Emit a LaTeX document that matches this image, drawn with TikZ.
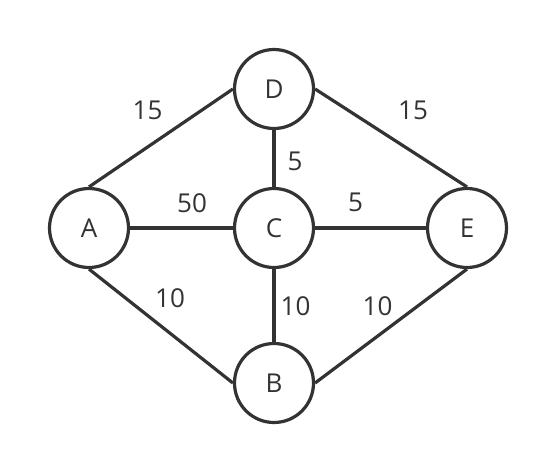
\documentclass[tikz,border=0pt]{standalone}
\usepackage{fontspec}
\setmainfont{Open Sans}
\definecolor{ink}{HTML}{333333}
\begin{document}
\begin{tikzpicture}[x=0.75pt,y=-0.75pt,
  vert/.style={circle,draw=ink,line width=2.4pt,minimum size=59.25pt,inner sep=0pt,fill=white,text=ink,font=\fontsize{19.5}{23}\selectfont},
  edge/.style={draw=ink,line width=2.4pt},
  wlabel/.style={text=ink,inner sep=0pt,font=\fontsize{19.5}{23}\selectfont}]
\useasboundingbox (0,0) rectangle (558,472);
\node[vert] (D) at (274,89) {D};
\node[vert] (A) at (89,228) {A};
\node[vert] (C) at (274,228) {C};
\node[vert] (E) at (467,228) {E};
\node[vert] (B) at (274,383) {B};
\draw[edge] (A.north) -- (D.west);
\draw[edge] (D.east) -- (E.north);
\draw[edge] (A.east) -- (C.west);
\draw[edge] (C.east) -- (E.west);
\draw[edge] (D.south) -- (C.north);
\draw[edge] (C.south) -- (B.north);
\draw[edge] (A.south) -- (B.west);
\draw[edge] (B.east) -- (E.south);
\node[wlabel] (l1) at (147.5,110) {15};
\node[wlabel] (l2) at (413,110) {15};
\node[wlabel] (l3) at (192,203) {50};
\node[wlabel] (l4) at (295,161) {5};
\node[wlabel] (l5) at (355.5,202) {5};
\node[wlabel] (l6) at (170,298) {10};
\node[wlabel] (l7) at (295.5,306) {10};
\node[wlabel] (l8) at (377.5,306) {10};
\end{tikzpicture}
\end{document}
